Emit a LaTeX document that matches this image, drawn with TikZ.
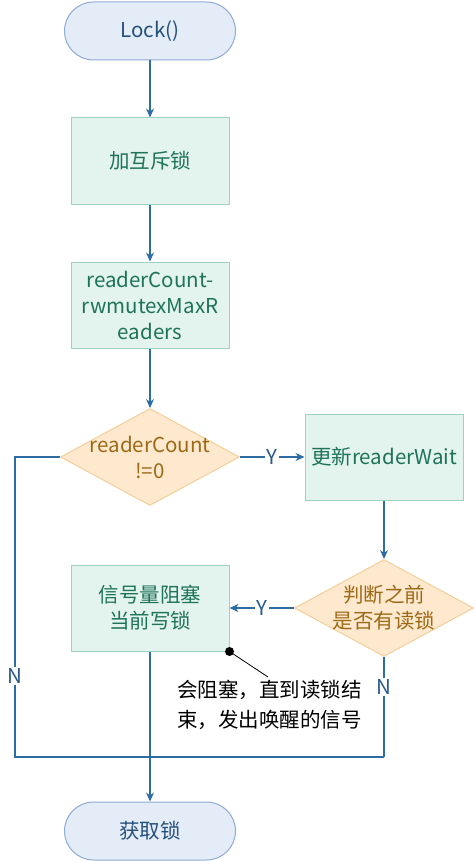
\documentclass[tikz,border=0pt]{standalone}
\usepackage{fontspec}
\setmainfont{Noto Sans CJK SC}
\usetikzlibrary{shapes.geometric,arrows.meta}
\definecolor{termfill}{HTML}{E4ECF8}
\definecolor{termdraw}{HTML}{8FAAD2}
\definecolor{termtext}{HTML}{23507C}
\definecolor{boxfill}{HTML}{E3F3EE}
\definecolor{boxdraw}{HTML}{9CD2BF}
\definecolor{boxtext}{HTML}{1E7359}
\definecolor{decfill}{HTML}{FFE9CE}
\definecolor{decdraw}{HTML}{F2CF98}
\definecolor{dectext}{HTML}{9C6A16}
\definecolor{flowcol}{HTML}{2E6DA4}
\definecolor{lblcol}{HTML}{2A5A8A}
\tikzset{
  every node/.style={font=\fontsize{20.5}{26}\selectfont},
  term/.style={draw=termdraw, fill=termfill, text=termtext, line width=1pt,
    rounded corners=29pt, minimum width=171pt, minimum height=58pt, inner sep=0pt},
  procbox/.style={draw=boxdraw, fill=boxfill, text=boxtext, line width=1pt,
    minimum width=158pt, minimum height=86pt, inner sep=0pt, align=center},
  dec/.style={shape=diamond, draw=decdraw, fill=decfill, line width=1pt,
    minimum width=179pt, minimum height=97pt, inner sep=0pt},
  dectxt/.style={text=dectext, align=center, inner sep=0pt},
  flow/.style={draw=flowcol, line width=1.2pt, -{Stealth[length=9pt,width=8pt]}},
  plain/.style={draw=flowcol, line width=1.2pt},
  lbl/.style={fill=white, text=lblcol, inner sep=1.5pt},
}
\begin{document}
\begin{tikzpicture}[x=1pt,y=-1pt]
\useasboundingbox (0,0) rectangle (474,861);
\node[term] (start) at (150,31) {Lock()};
\node[procbox] (mutex) at (150,161) {加互斥锁};
\node[procbox] (sub) at (150,305) {readerCount-\\rwmutexMaxR\\eaders};
\node[dec] (d1) at (150,457) {};
\node[dectxt] (d1t) at (150,457) {readerCount\\!=0};
\node[procbox] (upd) at (384,457) {更新readerWait};
\node[dec] (d2) at (384,608) {};
\node[dectxt] (d2t) at (384,608) {判断之前\\是否有读锁};
\node[procbox] (sig) at (150,608) {信号量阻塞\\当前写锁};
\node[term] (done) at (150,831) {获取锁};
\coordinate (lt) at (15,457);
\coordinate (lb) at (15,757);
\coordinate (rb) at (384,757);
\coordinate (noteend) at (268,677);
\node[align=left, inner sep=0pt, font=\fontsize{20.5}{30}\selectfont, anchor=north west] (note) at (177,680) {会阻塞，直到读锁结\\束，发出唤醒的信号};

\draw[flow] (start) -- (mutex);
\draw[flow] (mutex) -- (sub);
\draw[flow] (sub) -- (d1);
\draw[flow] (d1.east) -- node[lbl]{Y} (upd.west);
\draw[flow] (upd) -- (d2);
\draw[flow] (d2.west) -- node[lbl]{Y} (sig.east);
\draw[flow] (sig) -- (done);
\draw[plain] (d1.west) -- (lt) -- node[lbl,pos=0.73]{N} (lb) -- (rb);
\draw[plain] (d2.south) -- node[lbl,pos=0.3]{N} (rb);
\fill (sig.south east) circle (4.5pt);
\draw[line width=0.8pt] (sig.south east) -- (noteend);
\end{tikzpicture}
\end{document}
